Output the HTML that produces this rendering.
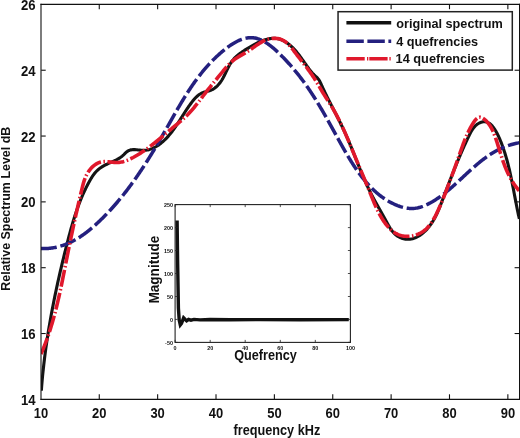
<!DOCTYPE html><html><head><meta charset="utf-8"><style>html,body{margin:0;padding:0;background:#fff;}svg{display:block;}</style></head><body>
<svg width="520" height="438" viewBox="0 0 520 438">
<rect width="520" height="438" fill="#fff"/>
<defs><clipPath id="ax"><rect x="41" y="4.4" width="478.5" height="395"/></clipPath></defs>
<g clip-path="url(#ax)" fill="none" stroke-linejoin="round">
<path d="M41.34,390.66 L41.41,389.66 L41.49,388.66 L41.56,387.67 L41.64,386.67 L41.72,385.67 L41.80,384.67 L41.89,383.68 L41.97,382.68 L42.06,381.68 L42.15,380.69 L42.24,379.69 L42.33,378.69 L42.42,377.70 L42.52,376.70 L42.61,375.70 L42.71,374.71 L42.81,373.71 L42.91,372.72 L43.01,371.72 L43.12,370.73 L43.22,369.73 L43.33,368.74 L43.44,367.74 L43.55,366.75 L43.66,365.75 L43.77,364.76 L43.89,363.76 L44.00,362.77 L44.12,361.78 L44.24,360.78 L44.36,359.79 L44.48,358.80 L44.60,357.80 L44.73,356.81 L44.85,355.82 L44.98,354.82 L45.11,353.83 L45.24,352.84 L45.37,351.85 L45.50,350.86 L45.64,349.86 L45.77,348.87 L45.91,347.88 L46.05,346.89 L46.19,345.90 L46.33,344.91 L46.47,343.92 L46.61,342.93 L46.76,341.94 L46.90,340.95 L47.05,339.96 L47.20,338.97 L47.35,337.98 L47.50,336.99 L47.66,336.00 L47.81,335.01 L47.97,334.02 L48.12,333.04 L48.28,332.05 L48.44,331.06 L48.60,330.07 L48.76,329.08 L48.93,328.10 L49.09,327.11 L49.26,326.12 L49.43,325.14 L49.59,324.15 L49.76,323.16 L49.93,322.18 L50.11,321.19 L50.28,320.21 L50.45,319.22 L50.63,318.24 L50.81,317.25 L50.98,316.27 L51.16,315.28 L51.34,314.30 L51.52,313.31 L51.71,312.33 L51.89,311.34 L52.08,310.36 L52.26,309.38 L52.45,308.40 L52.64,307.41 L52.83,306.43 L53.02,305.45 L53.21,304.47 L53.40,303.48 L53.60,302.50 L53.79,301.52 L53.99,300.54 L54.18,299.56 L54.38,298.58 L54.58,297.60 L54.78,296.62 L54.98,295.64 L55.19,294.66 L55.39,293.68 L55.59,292.70 L55.80,291.72 L56.01,290.74 L56.21,289.76 L56.42,288.78 L56.63,287.80 L56.84,286.82 L57.05,285.84 L57.27,284.87 L57.48,283.89 L57.69,282.91 L57.91,281.93 L58.13,280.96 L58.34,279.98 L58.56,279.00 L58.78,278.03 L59.00,277.05 L59.22,276.08 L59.44,275.10 L59.67,274.12 L59.89,273.15 L60.12,272.17 L60.34,271.20 L60.57,270.22 L60.79,269.25 L61.02,268.28 L61.25,267.30 L61.48,266.33 L61.71,265.35 L61.94,264.38 L62.18,263.41 L62.41,262.43 L62.64,261.46 L62.88,260.49 L63.11,259.51 L63.35,258.54 L63.59,257.57 L63.83,256.60 L64.06,255.63 L64.30,254.65 L64.54,253.68 L64.79,252.71 L65.03,251.74 L65.27,250.77 L65.51,249.80 L65.76,248.83 L66.00,247.86 L66.25,246.89 L66.49,245.92 L66.74,244.95 L66.99,243.98 L67.24,243.01 L67.49,242.04 L67.74,241.07 L67.99,240.10 L68.24,239.13 L68.49,238.17 L68.75,237.20 L69.00,236.23 L69.26,235.26 L69.52,234.30 L69.78,233.33 L70.04,232.37 L70.30,231.40 L70.57,230.44 L70.84,229.47 L71.11,228.51 L71.38,227.54 L71.65,226.58 L71.93,225.62 L72.21,224.66 L72.49,223.70 L72.77,222.74 L73.06,221.78 L73.35,220.82 L73.64,219.86 L73.93,218.91 L74.23,217.95 L74.53,217.00 L74.83,216.04 L75.14,215.09 L75.45,214.14 L75.77,213.19 L76.08,212.24 L76.41,211.29 L76.73,210.35 L77.06,209.40 L77.39,208.46 L77.73,207.52 L78.07,206.58 L78.41,205.64 L78.76,204.70 L79.12,203.76 L79.47,202.83 L79.84,201.89 L80.20,200.96 L80.57,200.03 L80.95,199.11 L81.33,198.18 L81.72,197.26 L82.11,196.34 L82.51,195.42 L82.91,194.50 L83.31,193.59 L83.73,192.68 L84.14,191.77 L84.57,190.86 L85.00,189.96 L85.43,189.05 L85.87,188.15 L86.32,187.26 L86.77,186.37 L87.22,185.48 L87.69,184.59 L88.16,183.70 L88.63,182.82 L89.11,181.95 L89.60,181.07 L90.10,180.20 L90.60,179.34 L91.11,178.48 L91.63,177.62 L92.17,176.78 L92.72,175.94 L93.29,175.12 L93.88,174.31 L94.49,173.52 L95.12,172.74 L95.78,171.99 L96.46,171.26 L97.17,170.55 L97.90,169.87 L98.66,169.22 L99.45,168.60 L100.26,168.01 L101.08,167.45 L101.93,166.90 L102.78,166.39 L103.65,165.89 L104.53,165.41 L105.41,164.94 L106.31,164.49 L107.21,164.06 L108.11,163.63 L109.02,163.21 L109.94,162.80 L110.85,162.40 L111.77,161.99 L112.68,161.59 L113.60,161.18 L114.51,160.77 L115.41,160.34 L116.31,159.90 L117.20,159.44 L118.07,158.96 L118.94,158.45 L119.78,157.91 L120.60,157.34 L121.41,156.74 L122.18,156.11 L122.93,155.45 L123.66,154.76 L124.36,154.05 L125.07,153.35 L125.80,152.65 L126.55,151.99 L127.34,151.38 L128.19,150.85 L129.09,150.42 L130.04,150.10 L131.01,149.87 L132.00,149.73 L133.00,149.65 L134.00,149.64 L135.00,149.67 L136.00,149.73 L137.00,149.82 L137.99,149.92 L138.99,150.02 L139.98,150.13 L140.98,150.22 L141.98,150.29 L142.98,150.33 L143.98,150.34 L144.98,150.29 L145.97,150.20 L146.96,150.06 L147.95,149.88 L148.92,149.65 L149.89,149.38 L150.84,149.07 L151.78,148.73 L152.70,148.35 L153.61,147.93 L154.51,147.49 L155.39,147.01 L156.26,146.52 L157.11,145.99 L157.95,145.44 L158.77,144.88 L159.58,144.29 L160.38,143.68 L161.16,143.06 L161.94,142.42 L162.69,141.77 L163.44,141.11 L164.18,140.43 L164.90,139.73 L165.61,139.03 L166.31,138.31 L166.99,137.59 L167.67,136.85 L168.34,136.10 L168.99,135.34 L169.64,134.58 L170.27,133.81 L170.90,133.02 L171.51,132.24 L172.12,131.44 L172.72,130.64 L173.32,129.84 L173.90,129.02 L174.48,128.21 L175.06,127.39 L175.62,126.56 L176.18,125.74 L176.74,124.91 L177.30,124.07 L177.84,123.24 L178.39,122.40 L178.93,121.56 L179.47,120.71 L180.01,119.87 L180.55,119.03 L181.09,118.18 L181.62,117.33 L182.16,116.49 L182.69,115.64 L183.23,114.80 L183.76,113.95 L184.30,113.11 L184.84,112.27 L185.39,111.43 L185.94,110.59 L186.49,109.76 L187.04,108.92 L187.60,108.09 L188.16,107.27 L188.73,106.44 L189.31,105.63 L189.89,104.81 L190.48,104.00 L191.08,103.20 L191.68,102.40 L192.30,101.61 L192.92,100.83 L193.55,100.05 L194.20,99.29 L194.86,98.54 L195.55,97.81 L196.25,97.10 L196.98,96.41 L197.73,95.75 L198.51,95.12 L199.32,94.53 L200.15,93.98 L201.02,93.48 L201.91,93.02 L202.82,92.62 L203.76,92.27 L204.71,91.97 L205.68,91.71 L206.65,91.46 L207.62,91.22 L208.59,90.97 L209.55,90.69 L210.49,90.36 L211.42,89.98 L212.32,89.54 L213.20,89.06 L214.05,88.53 L214.87,87.96 L215.66,87.35 L216.42,86.70 L217.15,86.01 L217.85,85.30 L218.53,84.56 L219.17,83.80 L219.79,83.01 L220.39,82.21 L220.96,81.39 L221.51,80.55 L222.04,79.70 L222.55,78.84 L223.05,77.97 L223.53,77.09 L223.99,76.21 L224.45,75.32 L224.89,74.42 L225.33,73.52 L225.76,72.62 L226.19,71.71 L226.62,70.81 L227.05,69.91 L227.49,69.01 L227.93,68.11 L228.38,67.22 L228.85,66.33 L229.33,65.45 L229.82,64.58 L230.33,63.72 L230.87,62.87 L231.42,62.04 L232.00,61.23 L232.61,60.43 L233.24,59.66 L233.90,58.91 L234.59,58.17 L235.29,57.46 L236.01,56.77 L236.75,56.10 L237.51,55.44 L238.28,54.81 L239.07,54.18 L239.86,53.57 L240.67,52.98 L241.48,52.40 L242.30,51.83 L243.13,51.27 L243.97,50.72 L244.81,50.17 L245.65,49.64 L246.50,49.11 L247.35,48.58 L248.21,48.06 L249.06,47.54 L249.92,47.03 L250.78,46.52 L251.64,46.01 L252.51,45.51 L253.38,45.01 L254.25,44.52 L255.13,44.05 L256.02,43.58 L256.91,43.12 L257.81,42.68 L258.71,42.25 L259.62,41.84 L260.54,41.45 L261.47,41.07 L262.40,40.71 L263.34,40.37 L264.29,40.05 L265.25,39.75 L266.21,39.48 L267.18,39.22 L268.15,39.00 L269.13,38.80 L270.12,38.63 L271.11,38.50 L272.11,38.40 L273.10,38.34 L274.11,38.33 L275.11,38.36 L276.10,38.44 L277.09,38.58 L278.08,38.77 L279.04,39.02 L280.00,39.32 L280.94,39.67 L281.86,40.05 L282.77,40.46 L283.67,40.91 L284.55,41.38 L285.42,41.88 L286.27,42.41 L287.10,42.97 L287.92,43.55 L288.72,44.15 L289.50,44.77 L290.27,45.41 L291.02,46.08 L291.75,46.75 L292.47,47.45 L293.18,48.15 L293.88,48.88 L294.56,49.61 L295.23,50.35 L295.88,51.11 L296.53,51.87 L297.17,52.64 L297.79,53.42 L298.41,54.21 L299.03,55.00 L299.63,55.80 L300.23,56.60 L300.82,57.41 L301.41,58.22 L301.99,59.03 L302.58,59.84 L303.15,60.66 L303.73,61.48 L304.31,62.29 L304.88,63.11 L305.46,63.93 L306.04,64.75 L306.62,65.56 L307.20,66.38 L307.79,67.19 L308.38,68.00 L308.97,68.80 L309.58,69.60 L310.19,70.39 L310.81,71.17 L311.45,71.95 L312.10,72.71 L312.76,73.45 L313.45,74.18 L314.15,74.89 L314.88,75.58 L315.61,76.26 L316.35,76.94 L317.07,77.64 L317.75,78.37 L318.39,79.14 L318.97,79.95 L319.49,80.81 L319.96,81.69 L320.39,82.59 L320.81,83.50 L321.22,84.42 L321.63,85.33 L322.05,86.24 L322.46,87.15 L322.89,88.06 L323.31,88.96 L323.74,89.87 L324.17,90.77 L324.60,91.67 L325.03,92.58 L325.47,93.48 L325.91,94.38 L326.35,95.27 L326.79,96.17 L327.24,97.07 L327.68,97.96 L328.13,98.86 L328.58,99.75 L329.03,100.65 L329.48,101.54 L329.93,102.43 L330.39,103.32 L330.84,104.22 L331.30,105.11 L331.75,106.00 L332.21,106.89 L332.66,107.78 L333.12,108.67 L333.58,109.56 L334.03,110.45 L334.49,111.34 L334.94,112.23 L335.40,113.12 L335.86,114.01 L336.31,114.91 L336.76,115.80 L337.22,116.69 L337.67,117.58 L338.12,118.48 L338.57,119.37 L339.02,120.27 L339.46,121.16 L339.91,122.06 L340.35,122.95 L340.79,123.85 L341.23,124.75 L341.67,125.65 L342.11,126.55 L342.54,127.45 L342.97,128.36 L343.40,129.26 L343.82,130.17 L344.25,131.07 L344.67,131.98 L345.08,132.89 L345.50,133.80 L345.91,134.72 L346.31,135.63 L346.72,136.55 L347.12,137.46 L347.52,138.38 L347.92,139.30 L348.31,140.22 L348.70,141.14 L349.09,142.06 L349.48,142.98 L349.87,143.91 L350.25,144.83 L350.63,145.76 L351.01,146.68 L351.39,147.61 L351.77,148.53 L352.15,149.46 L352.52,150.39 L352.90,151.32 L353.27,152.25 L353.64,153.17 L354.01,154.10 L354.39,155.03 L354.76,155.96 L355.13,156.89 L355.50,157.82 L355.87,158.75 L356.24,159.68 L356.61,160.61 L356.98,161.54 L357.35,162.47 L357.72,163.40 L358.10,164.33 L358.47,165.26 L358.84,166.18 L359.22,167.11 L359.59,168.04 L359.97,168.97 L360.35,169.89 L360.73,170.82 L361.11,171.74 L361.49,172.67 L361.88,173.59 L362.26,174.51 L362.65,175.44 L363.04,176.36 L363.44,177.28 L363.83,178.20 L364.23,179.12 L364.63,180.03 L365.03,180.95 L365.44,181.86 L365.85,182.78 L366.26,183.69 L366.68,184.60 L367.10,185.51 L367.52,186.41 L367.94,187.32 L368.37,188.22 L368.80,189.13 L369.24,190.03 L369.68,190.93 L370.13,191.82 L370.58,192.72 L371.03,193.61 L371.49,194.50 L371.95,195.39 L372.41,196.27 L372.88,197.16 L373.35,198.04 L373.83,198.92 L374.30,199.80 L374.78,200.68 L375.27,201.56 L375.75,202.43 L376.24,203.31 L376.72,204.18 L377.21,205.05 L377.70,205.93 L378.19,206.80 L378.68,207.67 L379.17,208.54 L379.67,209.41 L380.16,210.29 L380.65,211.16 L381.14,212.03 L381.63,212.90 L382.12,213.77 L382.61,214.65 L383.10,215.52 L383.58,216.40 L384.06,217.27 L384.55,218.15 L385.03,219.03 L385.50,219.91 L385.98,220.79 L386.45,221.67 L386.93,222.55 L387.40,223.43 L387.89,224.31 L388.37,225.18 L388.87,226.05 L389.38,226.91 L389.91,227.76 L390.45,228.60 L391.01,229.43 L391.59,230.25 L392.19,231.05 L392.82,231.83 L393.47,232.58 L394.16,233.31 L394.87,234.01 L395.62,234.68 L396.39,235.31 L397.20,235.90 L398.04,236.45 L398.91,236.95 L399.80,237.40 L400.71,237.81 L401.65,238.17 L402.60,238.48 L403.56,238.74 L404.54,238.95 L405.53,239.12 L406.52,239.22 L407.52,239.27 L408.52,239.27 L409.52,239.20 L410.52,239.09 L411.50,238.92 L412.48,238.70 L413.44,238.43 L414.39,238.11 L415.33,237.76 L416.25,237.36 L417.15,236.92 L418.03,236.45 L418.90,235.95 L419.74,235.42 L420.57,234.86 L421.38,234.27 L422.18,233.66 L422.95,233.03 L423.71,232.38 L424.45,231.71 L425.18,231.02 L425.88,230.31 L426.57,229.58 L427.25,228.85 L427.91,228.09 L428.55,227.33 L429.18,226.55 L429.79,225.76 L430.39,224.95 L430.97,224.14 L431.54,223.31 L432.09,222.48 L432.63,221.64 L433.15,220.78 L433.66,219.92 L434.16,219.05 L434.64,218.18 L435.12,217.30 L435.58,216.41 L436.03,215.51 L436.46,214.61 L436.89,213.71 L437.31,212.80 L437.72,211.89 L438.13,210.97 L438.52,210.05 L438.91,209.13 L439.29,208.20 L439.67,207.28 L440.04,206.35 L440.40,205.42 L440.77,204.48 L441.13,203.55 L441.49,202.62 L441.84,201.68 L442.20,200.75 L442.55,199.81 L442.91,198.88 L443.27,197.94 L443.62,197.00 L443.98,196.07 L444.33,195.13 L444.69,194.20 L445.04,193.26 L445.40,192.33 L445.76,191.39 L446.11,190.46 L446.47,189.52 L446.83,188.59 L447.18,187.65 L447.54,186.72 L447.90,185.78 L448.26,184.85 L448.62,183.92 L448.98,182.98 L449.34,182.05 L449.70,181.12 L450.06,180.18 L450.42,179.25 L450.79,178.32 L451.15,177.39 L451.52,176.45 L451.88,175.52 L452.25,174.59 L452.62,173.66 L452.98,172.73 L453.35,171.80 L453.72,170.87 L454.10,169.94 L454.47,169.01 L454.84,168.08 L455.22,167.16 L455.59,166.23 L455.97,165.30 L456.35,164.38 L456.73,163.45 L457.11,162.52 L457.49,161.60 L457.88,160.68 L458.26,159.75 L458.65,158.83 L459.04,157.91 L459.43,156.99 L459.82,156.06 L460.21,155.14 L460.60,154.22 L461.00,153.31 L461.40,152.39 L461.80,151.47 L462.20,150.55 L462.60,149.64 L463.01,148.72 L463.41,147.81 L463.82,146.89 L464.23,145.98 L464.64,145.07 L465.06,144.16 L465.47,143.25 L465.89,142.34 L466.31,141.43 L466.73,140.52 L467.16,139.62 L467.58,138.71 L468.01,137.81 L468.44,136.90 L468.88,136.00 L469.31,135.10 L469.76,134.20 L470.21,133.31 L470.68,132.43 L471.16,131.55 L471.67,130.69 L472.19,129.84 L472.75,129.00 L473.33,128.19 L473.95,127.41 L474.61,126.65 L475.30,125.93 L476.03,125.24 L476.80,124.61 L477.61,124.02 L478.46,123.49 L479.34,123.01 L480.25,122.60 L481.19,122.25 L482.15,121.98 L483.13,121.78 L484.13,121.69 L485.13,121.71 L486.12,121.86 L487.08,122.14 L488.00,122.53 L488.87,123.02 L489.70,123.58 L490.48,124.21 L491.21,124.89 L491.91,125.61 L492.56,126.36 L493.19,127.14 L493.78,127.95 L494.35,128.77 L494.90,129.61 L495.43,130.46 L495.93,131.32 L496.43,132.19 L496.90,133.07 L497.37,133.96 L497.82,134.86 L498.25,135.76 L498.67,136.66 L499.09,137.58 L499.49,138.49 L499.88,139.41 L500.27,140.34 L500.65,141.26 L501.02,142.19 L501.39,143.12 L501.75,144.05 L502.10,144.99 L502.45,145.93 L502.79,146.87 L503.12,147.81 L503.45,148.76 L503.78,149.71 L504.09,150.66 L504.40,151.61 L504.71,152.56 L505.01,153.51 L505.30,154.47 L505.59,155.43 L505.88,156.39 L506.16,157.35 L506.44,158.31 L506.71,159.27 L506.97,160.24 L507.23,161.20 L507.49,162.17 L507.74,163.14 L507.99,164.11 L508.24,165.08 L508.48,166.05 L508.72,167.02 L508.95,167.99 L509.18,168.97 L509.41,169.94 L509.64,170.92 L509.86,171.89 L510.08,172.87 L510.29,173.85 L510.51,174.82 L510.72,175.80 L510.93,176.78 L511.13,177.76 L511.34,178.74 L511.54,179.72 L511.74,180.70 L511.94,181.68 L512.13,182.66 L512.33,183.64 L512.52,184.63 L512.71,185.61 L512.90,186.59 L513.09,187.57 L513.28,188.56 L513.47,189.54 L513.66,190.52 L513.85,191.50 L514.03,192.49 L514.22,193.47 L514.41,194.45 L514.59,195.44 L514.78,196.42 L514.97,197.40 L515.15,198.39 L515.34,199.37 L515.53,200.35 L515.72,201.34 L515.91,202.32 L516.10,203.30 L516.29,204.28 L516.48,205.26 L516.67,206.25 L516.87,207.23 L517.06,208.21 L517.26,209.19 L517.46,210.17 L517.66,211.15 L517.87,212.13 L518.08,213.11 L518.28,214.09 L518.50,215.07 L518.71,216.04 L518.93,217.02 L519.14,218.00 L519.37,218.97" stroke="#141414" stroke-width="3.1"/>
<path d="M40.33,248.56 L41.33,248.60 L42.33,248.62 L43.33,248.62 L44.33,248.61 L45.33,248.59 L46.33,248.54 L47.33,248.48 L48.33,248.41 L49.32,248.31 L50.32,248.20 L51.31,248.08 L52.30,247.94 L53.29,247.78 L54.28,247.60 L55.26,247.41 L56.24,247.20 L57.21,246.98 L58.19,246.74 L59.15,246.49 L60.12,246.22 L61.08,245.93 L62.03,245.63 L62.98,245.32 L63.93,244.99 L64.87,244.65 L65.80,244.29 L66.73,243.92 L67.66,243.53 L68.58,243.14 L69.49,242.73 L70.40,242.30 L71.30,241.87 L72.19,241.42 L73.08,240.96 L73.97,240.49 L74.85,240.01 L75.72,239.52 L76.58,239.02 L77.44,238.51 L78.30,237.98 L79.15,237.45 L79.99,236.91 L80.83,236.36 L81.66,235.80 L82.48,235.24 L83.30,234.66 L84.12,234.08 L84.93,233.49 L85.73,232.89 L86.53,232.29 L87.32,231.68 L88.11,231.06 L88.89,230.44 L89.67,229.81 L90.44,229.18 L91.21,228.53 L91.98,227.89 L92.74,227.24 L93.49,226.58 L94.25,225.92 L94.99,225.25 L95.74,224.58 L96.48,223.91 L97.21,223.23 L97.95,222.55 L98.68,221.86 L99.40,221.18 L100.12,220.48 L100.84,219.79 L101.56,219.09 L102.28,218.39 L102.99,217.68 L103.69,216.98 L104.40,216.27 L105.10,215.55 L105.80,214.84 L106.50,214.12 L107.19,213.39 L107.88,212.67 L108.57,211.94 L109.25,211.21 L109.93,210.48 L110.61,209.74 L111.29,209.00 L111.96,208.26 L112.63,207.52 L113.30,206.77 L113.96,206.02 L114.62,205.27 L115.28,204.52 L115.94,203.76 L116.59,203.00 L117.24,202.24 L117.89,201.48 L118.53,200.71 L119.17,199.94 L119.81,199.17 L120.45,198.40 L121.08,197.62 L121.71,196.85 L122.34,196.07 L122.97,195.29 L123.59,194.50 L124.21,193.72 L124.83,192.93 L125.45,192.14 L126.06,191.35 L126.67,190.56 L127.28,189.76 L127.88,188.97 L128.49,188.17 L129.09,187.37 L129.69,186.56 L130.28,185.76 L130.88,184.96 L131.47,184.15 L132.06,183.34 L132.65,182.53 L133.23,181.72 L133.81,180.90 L134.40,180.09 L134.97,179.27 L135.55,178.45 L136.12,177.63 L136.70,176.81 L137.27,175.99 L137.83,175.16 L138.40,174.34 L138.96,173.51 L139.52,172.68 L140.08,171.85 L140.64,171.02 L141.20,170.19 L141.75,169.35 L142.30,168.52 L142.86,167.68 L143.40,166.85 L143.95,166.01 L144.50,165.17 L145.04,164.33 L145.58,163.48 L146.12,162.64 L146.66,161.80 L147.20,160.95 L147.73,160.11 L148.26,159.26 L148.80,158.41 L149.33,157.56 L149.85,156.71 L150.38,155.86 L150.91,155.01 L151.43,154.16 L151.96,153.30 L152.48,152.45 L153.00,151.59 L153.52,150.74 L154.03,149.88 L154.55,149.02 L155.07,148.17 L155.58,147.31 L156.09,146.45 L156.60,145.59 L157.11,144.73 L157.62,143.86 L158.13,143.00 L158.64,142.14 L159.14,141.27 L159.65,140.41 L160.15,139.54 L160.66,138.68 L161.16,137.81 L161.66,136.95 L162.16,136.08 L162.66,135.21 L163.16,134.34 L163.66,133.48 L164.15,132.61 L164.65,131.74 L165.14,130.87 L165.64,130.00 L166.13,129.13 L166.63,128.26 L167.12,127.39 L167.61,126.51 L168.11,125.64 L168.60,124.77 L169.09,123.90 L169.58,123.03 L170.07,122.16 L170.57,121.28 L171.06,120.41 L171.55,119.54 L172.04,118.67 L172.54,117.80 L173.03,116.93 L173.52,116.06 L174.02,115.19 L174.52,114.32 L175.01,113.45 L175.51,112.58 L176.01,111.71 L176.51,110.84 L177.01,109.98 L177.51,109.11 L178.01,108.24 L178.52,107.38 L179.02,106.52 L179.53,105.65 L180.04,104.79 L180.55,103.93 L181.06,103.07 L181.57,102.21 L182.09,101.35 L182.61,100.50 L183.13,99.64 L183.65,98.79 L184.17,97.93 L184.70,97.08 L185.23,96.23 L185.76,95.39 L186.30,94.54 L186.83,93.69 L187.37,92.85 L187.91,92.01 L188.46,91.17 L189.01,90.33 L189.56,89.49 L190.11,88.66 L190.67,87.83 L191.23,87.00 L191.79,86.17 L192.36,85.35 L192.93,84.52 L193.50,83.70 L194.08,82.88 L194.66,82.07 L195.24,81.26 L195.83,80.45 L196.42,79.64 L197.02,78.83 L197.61,78.03 L198.22,77.23 L198.82,76.44 L199.44,75.64 L200.05,74.85 L200.67,74.07 L201.29,73.28 L201.92,72.50 L202.55,71.73 L203.19,70.96 L203.83,70.19 L204.47,69.42 L205.12,68.66 L205.78,67.90 L206.44,67.15 L207.10,66.40 L207.77,65.65 L208.44,64.91 L209.11,64.17 L209.80,63.44 L210.48,62.71 L211.17,61.98 L211.87,61.26 L212.57,60.55 L213.27,59.84 L213.98,59.13 L214.69,58.43 L215.41,57.73 L216.14,57.04 L216.86,56.35 L217.60,55.67 L218.33,54.99 L219.08,54.32 L219.82,53.65 L220.58,52.99 L221.33,52.34 L222.09,51.69 L222.86,51.04 L223.63,50.40 L224.41,49.77 L225.19,49.15 L225.98,48.53 L226.77,47.92 L227.57,47.32 L228.38,46.73 L229.20,46.15 L230.02,45.58 L230.85,45.02 L231.68,44.47 L232.53,43.93 L233.38,43.41 L234.24,42.90 L235.11,42.41 L235.99,41.93 L236.88,41.47 L237.78,41.03 L238.69,40.60 L239.61,40.20 L240.53,39.82 L241.47,39.47 L242.41,39.14 L243.37,38.84 L244.33,38.57 L245.30,38.33 L246.28,38.12 L247.27,37.95 L248.26,37.82 L249.26,37.73 L250.26,37.67 L251.26,37.67 L252.26,37.70 L253.26,37.78 L254.25,37.91 L255.24,38.08 L256.21,38.30 L257.18,38.56 L258.14,38.85 L259.08,39.18 L260.01,39.54 L260.94,39.94 L261.84,40.36 L262.74,40.80 L263.63,41.27 L264.50,41.76 L265.36,42.27 L266.21,42.80 L267.05,43.35 L267.88,43.91 L268.69,44.49 L269.50,45.08 L270.30,45.68 L271.09,46.29 L271.87,46.92 L272.65,47.55 L273.42,48.19 L274.18,48.85 L274.93,49.51 L275.67,50.17 L276.41,50.85 L277.15,51.53 L277.88,52.21 L278.60,52.90 L279.32,53.60 L280.04,54.30 L280.75,55.00 L281.46,55.71 L282.16,56.42 L282.86,57.14 L283.56,57.85 L284.26,58.57 L284.95,59.30 L285.64,60.02 L286.32,60.75 L287.00,61.49 L287.68,62.22 L288.36,62.96 L289.03,63.71 L289.69,64.45 L290.36,65.20 L291.02,65.95 L291.68,66.71 L292.33,67.47 L292.98,68.23 L293.63,68.99 L294.27,69.76 L294.91,70.53 L295.55,71.30 L296.18,72.07 L296.81,72.85 L297.44,73.63 L298.06,74.42 L298.68,75.20 L299.30,75.99 L299.91,76.78 L300.52,77.58 L301.13,78.37 L301.73,79.17 L302.33,79.97 L302.93,80.78 L303.52,81.58 L304.11,82.39 L304.70,83.20 L305.28,84.01 L305.86,84.83 L306.44,85.65 L307.02,86.47 L307.59,87.29 L308.16,88.11 L308.72,88.94 L309.28,89.77 L309.84,90.60 L310.40,91.43 L310.95,92.26 L311.51,93.10 L312.05,93.93 L312.60,94.77 L313.14,95.61 L313.68,96.46 L314.22,97.30 L314.76,98.15 L315.29,98.99 L315.82,99.84 L316.35,100.69 L316.88,101.54 L317.40,102.40 L317.92,103.25 L318.44,104.11 L318.96,104.96 L319.48,105.82 L319.99,106.68 L320.50,107.54 L321.01,108.40 L321.52,109.26 L322.03,110.13 L322.53,110.99 L323.04,111.86 L323.54,112.72 L324.04,113.59 L324.54,114.46 L325.04,115.32 L325.53,116.19 L326.03,117.06 L326.52,117.93 L327.02,118.81 L327.51,119.68 L328.00,120.55 L328.49,121.42 L328.98,122.30 L329.46,123.17 L329.95,124.05 L330.44,124.92 L330.92,125.80 L331.41,126.67 L331.89,127.55 L332.38,128.42 L332.86,129.30 L333.34,130.18 L333.83,131.05 L334.31,131.93 L334.79,132.81 L335.27,133.69 L335.75,134.56 L336.24,135.44 L336.72,136.32 L337.20,137.19 L337.68,138.07 L338.17,138.95 L338.65,139.83 L339.13,140.70 L339.62,141.58 L340.10,142.45 L340.59,143.33 L341.07,144.20 L341.56,145.08 L342.05,145.95 L342.54,146.82 L343.03,147.70 L343.53,148.57 L344.02,149.44 L344.52,150.31 L345.02,151.17 L345.52,152.04 L346.02,152.91 L346.53,153.77 L347.03,154.63 L347.54,155.50 L348.05,156.36 L348.57,157.21 L349.09,158.07 L349.61,158.93 L350.13,159.78 L350.66,160.63 L351.19,161.48 L351.72,162.33 L352.26,163.17 L352.80,164.01 L353.34,164.85 L353.89,165.69 L354.44,166.53 L355.00,167.36 L355.56,168.19 L356.12,169.02 L356.69,169.84 L357.26,170.66 L357.84,171.48 L358.42,172.30 L359.00,173.11 L359.60,173.91 L360.19,174.72 L360.79,175.52 L361.40,176.31 L362.01,177.11 L362.63,177.89 L363.26,178.68 L363.88,179.46 L364.52,180.23 L365.16,181.00 L365.81,181.76 L366.46,182.52 L367.12,183.27 L367.79,184.02 L368.46,184.76 L369.14,185.50 L369.83,186.22 L370.52,186.95 L371.22,187.66 L371.93,188.37 L372.64,189.07 L373.36,189.77 L374.09,190.45 L374.83,191.13 L375.57,191.80 L376.32,192.47 L377.08,193.12 L377.84,193.76 L378.62,194.40 L379.40,195.03 L380.19,195.64 L380.98,196.25 L381.79,196.85 L382.60,197.43 L383.42,198.01 L384.24,198.57 L385.08,199.12 L385.92,199.67 L386.77,200.20 L387.63,200.71 L388.49,201.22 L389.36,201.71 L390.24,202.19 L391.12,202.66 L392.02,203.11 L392.92,203.55 L393.82,203.98 L394.73,204.40 L395.65,204.80 L396.57,205.18 L397.50,205.55 L398.44,205.90 L399.38,206.24 L400.33,206.55 L401.29,206.85 L402.25,207.12 L403.22,207.38 L404.19,207.61 L405.17,207.82 L406.16,208.00 L407.15,208.16 L408.14,208.28 L409.14,208.38 L410.14,208.45 L411.14,208.48 L412.14,208.48 L413.14,208.45 L414.14,208.38 L415.13,208.27 L416.12,208.13 L417.11,207.95 L418.09,207.74 L419.06,207.50 L420.02,207.24 L420.98,206.95 L421.93,206.63 L422.87,206.29 L423.81,205.93 L424.73,205.55 L425.65,205.15 L426.56,204.74 L427.47,204.31 L428.36,203.87 L429.26,203.41 L430.14,202.95 L431.02,202.47 L431.89,201.98 L432.76,201.48 L433.62,200.96 L434.47,200.44 L435.32,199.91 L436.16,199.37 L437.00,198.82 L437.83,198.26 L438.66,197.69 L439.48,197.12 L440.29,196.54 L441.10,195.95 L441.90,195.35 L442.70,194.75 L443.50,194.14 L444.29,193.52 L445.07,192.90 L445.85,192.27 L446.63,191.64 L447.40,191.01 L448.17,190.37 L448.94,189.72 L449.70,189.07 L450.46,188.42 L451.21,187.76 L451.97,187.11 L452.72,186.44 L453.47,185.78 L454.21,185.11 L454.96,184.44 L455.70,183.77 L456.44,183.10 L457.18,182.42 L457.92,181.74 L458.65,181.07 L459.39,180.39 L460.12,179.71 L460.86,179.03 L461.59,178.35 L462.33,177.67 L463.06,176.99 L463.79,176.30 L464.53,175.62 L465.26,174.94 L465.99,174.26 L466.73,173.58 L467.47,172.91 L468.20,172.23 L468.94,171.55 L469.68,170.88 L470.42,170.21 L471.17,169.54 L471.91,168.87 L472.66,168.20 L473.41,167.54 L474.16,166.88 L474.92,166.22 L475.67,165.57 L476.44,164.92 L477.20,164.27 L477.97,163.63 L478.74,162.99 L479.51,162.35 L480.29,161.72 L481.07,161.10 L481.86,160.48 L482.65,159.87 L483.44,159.26 L484.24,158.65 L485.05,158.06 L485.86,157.47 L486.67,156.89 L487.49,156.31 L488.31,155.74 L489.14,155.18 L489.98,154.63 L490.82,154.09 L491.66,153.55 L492.51,153.02 L493.37,152.50 L494.23,152.00 L495.10,151.50 L495.98,151.01 L496.85,150.53 L497.74,150.06 L498.63,149.61 L499.53,149.16 L500.43,148.73 L501.34,148.30 L502.25,147.89 L503.17,147.50 L504.09,147.11 L505.02,146.74 L505.95,146.37 L506.89,146.03 L507.83,145.69 L508.78,145.37 L509.73,145.06 L510.69,144.77 L511.65,144.49 L512.62,144.22 L513.59,143.96 L514.56,143.72 L515.53,143.50 L516.51,143.29 L517.49,143.09 L518.48,142.90 L519.46,142.73" stroke="#24207f" stroke-width="3.5" stroke-dasharray="16.5 3.8"/>
<path d="M41.02,353.97 L41.42,353.05 L41.82,352.13 L42.21,351.21 L42.60,350.29 L42.98,349.36 L43.36,348.44 L43.74,347.51 L44.11,346.58 L44.48,345.65 L44.84,344.72 L45.20,343.78 L45.56,342.85 L45.91,341.91 L46.26,340.97 L46.60,340.04 L46.95,339.09 L47.28,338.15 L47.62,337.21 L47.95,336.26 L48.27,335.32 L48.60,334.37 L48.92,333.42 L49.23,332.47 L49.54,331.52 L49.85,330.57 L50.16,329.62 L50.46,328.66 L50.76,327.71 L51.06,326.75 L51.35,325.80 L51.64,324.84 L51.93,323.88 L52.21,322.92 L52.49,321.96 L52.77,321.00 L53.05,320.04 L53.32,319.07 L53.59,318.11 L53.85,317.15 L54.12,316.18 L54.38,315.22 L54.64,314.25 L54.90,313.28 L55.15,312.31 L55.40,311.35 L55.65,310.38 L55.90,309.41 L56.14,308.44 L56.38,307.46 L56.62,306.49 L56.86,305.52 L57.10,304.55 L57.33,303.58 L57.56,302.60 L57.79,301.63 L58.02,300.65 L58.25,299.68 L58.47,298.70 L58.69,297.73 L58.92,296.75 L59.13,295.78 L59.35,294.80 L59.57,293.82 L59.78,292.85 L60.00,291.87 L60.21,290.89 L60.42,289.91 L60.63,288.93 L60.84,287.95 L61.04,286.97 L61.25,286.00 L61.45,285.02 L61.66,284.04 L61.86,283.06 L62.06,282.08 L62.26,281.10 L62.46,280.11 L62.66,279.13 L62.86,278.15 L63.06,277.17 L63.25,276.19 L63.45,275.21 L63.64,274.23 L63.84,273.25 L64.04,272.27 L64.23,271.28 L64.42,270.30 L64.62,269.32 L64.81,268.34 L65.01,267.36 L65.20,266.38 L65.39,265.39 L65.59,264.41 L65.78,263.43 L65.97,262.45 L66.17,261.47 L66.36,260.48 L66.55,259.50 L66.75,258.52 L66.94,257.54 L67.14,256.56 L67.33,255.58 L67.53,254.60 L67.72,253.61 L67.92,252.63 L68.12,251.65 L68.32,250.67 L68.51,249.69 L68.71,248.71 L68.91,247.73 L69.11,246.75 L69.31,245.77 L69.51,244.79 L69.71,243.81 L69.92,242.83 L70.12,241.85 L70.32,240.87 L70.53,239.89 L70.73,238.91 L70.93,237.93 L71.14,236.95 L71.35,235.97 L71.55,234.99 L71.76,234.01 L71.97,233.03 L72.17,232.05 L72.38,231.07 L72.59,230.10 L72.80,229.12 L73.01,228.14 L73.22,227.16 L73.43,226.18 L73.64,225.20 L73.86,224.23 L74.07,223.25 L74.28,222.27 L74.50,221.29 L74.71,220.32 L74.93,219.34 L75.14,218.36 L75.36,217.39 L75.58,216.41 L75.79,215.43 L76.01,214.46 L76.23,213.48 L76.45,212.50 L76.67,211.53 L76.89,210.55 L77.11,209.57 L77.33,208.60 L77.56,207.62 L77.78,206.65 L78.00,205.67 L78.23,204.70 L78.45,203.72 L78.68,202.75 L78.90,201.77 L79.13,200.80 L79.36,199.82 L79.59,198.85 L79.82,197.87 L80.04,196.90 L80.27,195.93 L80.51,194.95 L80.74,193.98 L80.97,193.01 L81.20,192.03 L81.43,191.06 L81.67,190.09 L81.90,189.11 L82.14,188.14 L82.38,187.17 L82.62,186.20 L82.87,185.23 L83.13,184.26 L83.40,183.30 L83.68,182.34 L83.97,181.38 L84.29,180.43 L84.61,179.49 L84.96,178.55 L85.33,177.62 L85.72,176.70 L86.14,175.79 L86.58,174.89 L87.05,174.00 L87.54,173.13 L88.06,172.28 L88.61,171.44 L89.19,170.63 L89.80,169.83 L90.43,169.06 L91.09,168.30 L91.78,167.58 L92.49,166.88 L93.23,166.20 L94.00,165.56 L94.79,164.95 L95.62,164.38 L96.46,163.85 L97.34,163.37 L98.24,162.94 L99.17,162.57 L100.12,162.26 L101.09,162.02 L102.08,161.84 L103.07,161.72 L104.07,161.66 L105.07,161.64 L106.07,161.66 L107.07,161.72 L108.07,161.79 L109.07,161.88 L110.06,161.98 L111.06,162.09 L112.05,162.19 L113.05,162.29 L114.05,162.37 L115.04,162.44 L116.04,162.48 L117.04,162.48 L118.04,162.44 L119.04,162.37 L120.04,162.25 L121.02,162.09 L122.01,161.89 L122.98,161.66 L123.94,161.40 L124.90,161.11 L125.85,160.79 L126.79,160.44 L127.72,160.07 L128.64,159.68 L129.55,159.27 L130.46,158.85 L131.35,158.40 L132.24,157.94 L133.13,157.48 L134.01,157.00 L134.88,156.51 L135.75,156.01 L136.61,155.50 L137.47,154.99 L138.33,154.47 L139.18,153.94 L140.02,153.41 L140.87,152.87 L141.70,152.32 L142.54,151.77 L143.37,151.21 L144.19,150.65 L145.02,150.08 L145.83,149.50 L146.65,148.92 L147.46,148.33 L148.27,147.74 L149.07,147.15 L149.87,146.55 L150.67,145.94 L151.46,145.33 L152.26,144.72 L153.04,144.11 L153.83,143.49 L154.61,142.86 L155.39,142.24 L156.17,141.61 L156.95,140.98 L157.73,140.35 L158.50,139.71 L159.27,139.07 L160.04,138.43 L160.81,137.79 L161.57,137.15 L162.34,136.51 L163.11,135.86 L163.87,135.21 L164.63,134.57 L165.40,133.92 L166.16,133.27 L166.92,132.63 L167.69,131.98 L168.45,131.33 L169.22,130.69 L169.98,130.04 L170.75,129.40 L171.51,128.75 L172.28,128.11 L173.05,127.47 L173.82,126.83 L174.59,126.19 L175.36,125.56 L176.13,124.92 L176.90,124.28 L177.67,123.64 L178.44,123.00 L179.21,122.36 L179.97,121.71 L180.73,121.06 L181.49,120.41 L182.25,119.75 L182.99,119.09 L183.74,118.42 L184.48,117.75 L185.21,117.06 L185.94,116.38 L186.66,115.68 L187.37,114.98 L188.07,114.27 L188.77,113.55 L189.46,112.82 L190.13,112.08 L190.81,111.34 L191.47,110.59 L192.13,109.84 L192.78,109.08 L193.42,108.31 L194.06,107.54 L194.70,106.77 L195.33,105.99 L195.95,105.21 L196.58,104.43 L197.19,103.64 L197.81,102.85 L198.42,102.06 L199.03,101.27 L199.64,100.47 L200.25,99.68 L200.86,98.88 L201.46,98.09 L202.07,97.29 L202.67,96.50 L203.28,95.70 L203.89,94.91 L204.50,94.11 L205.12,93.32 L205.73,92.53 L206.35,91.74 L206.96,90.96 L207.58,90.17 L208.20,89.39 L208.83,88.60 L209.45,87.82 L210.08,87.04 L210.70,86.26 L211.33,85.48 L211.96,84.70 L212.59,83.92 L213.22,83.15 L213.85,82.37 L214.48,81.59 L215.12,80.82 L215.75,80.04 L216.38,79.27 L217.02,78.50 L217.65,77.72 L218.29,76.95 L218.92,76.17 L219.56,75.40 L220.19,74.63 L220.82,73.85 L221.46,73.08 L222.09,72.31 L222.73,71.53 L223.36,70.76 L224.00,69.99 L224.64,69.22 L225.28,68.45 L225.93,67.69 L226.59,66.93 L227.25,66.19 L227.93,65.45 L228.61,64.71 L229.30,64.00 L230.01,63.29 L230.73,62.59 L231.47,61.92 L232.22,61.25 L232.99,60.61 L233.77,59.99 L234.57,59.39 L235.39,58.81 L236.22,58.25 L237.06,57.71 L237.91,57.18 L238.77,56.67 L239.63,56.16 L240.50,55.66 L241.37,55.16 L242.24,54.67 L243.11,54.18 L243.98,53.68 L244.84,53.18 L245.71,52.67 L246.56,52.15 L247.41,51.63 L248.25,51.08 L249.09,50.53 L249.91,49.97 L250.73,49.39 L251.55,48.82 L252.36,48.23 L253.18,47.65 L253.99,47.06 L254.80,46.48 L255.62,45.90 L256.43,45.32 L257.26,44.76 L258.09,44.20 L258.93,43.65 L259.77,43.11 L260.63,42.59 L261.49,42.09 L262.37,41.61 L263.26,41.16 L264.16,40.72 L265.08,40.32 L266.01,39.95 L266.95,39.62 L267.91,39.32 L268.87,39.06 L269.85,38.84 L270.83,38.66 L271.83,38.52 L272.82,38.43 L273.82,38.38 L274.82,38.37 L275.82,38.40 L276.82,38.49 L277.81,38.62 L278.79,38.81 L279.77,39.05 L280.72,39.34 L281.66,39.69 L282.57,40.10 L283.46,40.56 L284.32,41.07 L285.15,41.63 L285.95,42.22 L286.73,42.85 L287.48,43.52 L288.21,44.20 L288.91,44.91 L289.60,45.64 L290.27,46.39 L290.92,47.15 L291.56,47.92 L292.19,48.70 L292.81,49.48 L293.42,50.27 L294.02,51.07 L294.63,51.87 L295.23,52.67 L295.83,53.47 L296.44,54.26 L297.04,55.06 L297.65,55.85 L298.26,56.65 L298.87,57.44 L299.49,58.23 L300.10,59.02 L300.71,59.81 L301.33,60.60 L301.94,61.39 L302.56,62.18 L303.17,62.97 L303.78,63.76 L304.39,64.56 L305.00,65.35 L305.61,66.14 L306.22,66.94 L306.82,67.74 L307.42,68.54 L308.02,69.34 L308.61,70.15 L309.20,70.96 L309.79,71.77 L310.37,72.58 L310.95,73.40 L311.52,74.22 L312.09,75.04 L312.65,75.87 L313.21,76.70 L313.76,77.54 L314.31,78.37 L314.84,79.22 L315.38,80.07 L315.90,80.92 L316.43,81.77 L316.95,82.62 L317.46,83.48 L317.97,84.34 L318.48,85.20 L318.99,86.06 L319.50,86.93 L320.01,87.79 L320.52,88.65 L321.02,89.51 L321.53,90.38 L322.04,91.24 L322.55,92.10 L323.07,92.95 L323.59,93.81 L324.11,94.66 L324.64,95.51 L325.17,96.36 L325.71,97.21 L326.25,98.05 L326.79,98.89 L327.34,99.72 L327.89,100.56 L328.44,101.40 L328.99,102.23 L329.53,103.08 L330.07,103.92 L330.60,104.77 L331.12,105.62 L331.64,106.47 L332.16,107.33 L332.67,108.19 L333.17,109.06 L333.67,109.92 L334.17,110.79 L334.66,111.67 L335.14,112.54 L335.63,113.42 L336.10,114.30 L336.57,115.18 L337.04,116.07 L337.51,116.95 L337.96,117.84 L338.42,118.73 L338.87,119.63 L339.32,120.52 L339.76,121.42 L340.20,122.32 L340.64,123.22 L341.07,124.12 L341.50,125.02 L341.93,125.93 L342.35,126.83 L342.77,127.74 L343.19,128.65 L343.60,129.56 L344.02,130.47 L344.43,131.39 L344.83,132.30 L345.24,133.22 L345.64,134.13 L346.04,135.05 L346.44,135.97 L346.84,136.89 L347.23,137.81 L347.63,138.73 L348.02,139.65 L348.41,140.57 L348.80,141.49 L349.18,142.41 L349.57,143.34 L349.95,144.26 L350.34,145.18 L350.72,146.11 L351.10,147.03 L351.49,147.96 L351.87,148.88 L352.25,149.81 L352.63,150.73 L353.01,151.66 L353.39,152.58 L353.77,153.51 L354.15,154.43 L354.53,155.36 L354.92,156.29 L355.30,157.21 L355.68,158.13 L356.06,159.06 L356.45,159.98 L356.83,160.91 L357.22,161.83 L357.60,162.75 L357.99,163.68 L358.37,164.60 L358.76,165.52 L359.15,166.45 L359.53,167.37 L359.92,168.29 L360.31,169.22 L360.69,170.14 L361.08,171.06 L361.47,171.98 L361.86,172.91 L362.24,173.83 L362.63,174.75 L363.02,175.68 L363.40,176.60 L363.79,177.52 L364.18,178.44 L364.56,179.37 L364.95,180.29 L365.33,181.22 L365.72,182.14 L366.10,183.06 L366.48,183.99 L366.87,184.91 L367.25,185.84 L367.63,186.76 L368.01,187.69 L368.39,188.61 L368.77,189.54 L369.15,190.47 L369.52,191.39 L369.90,192.32 L370.27,193.25 L370.65,194.18 L371.02,195.10 L371.40,196.03 L371.77,196.96 L372.15,197.89 L372.52,198.82 L372.90,199.74 L373.28,200.67 L373.66,201.59 L374.05,202.51 L374.44,203.44 L374.84,204.36 L375.24,205.27 L375.64,206.19 L376.05,207.10 L376.47,208.01 L376.89,208.92 L377.32,209.82 L377.76,210.72 L378.20,211.62 L378.66,212.51 L379.12,213.40 L379.59,214.28 L380.07,215.16 L380.56,216.03 L381.06,216.90 L381.57,217.76 L382.09,218.61 L382.62,219.46 L383.16,220.30 L383.71,221.14 L384.28,221.96 L384.86,222.78 L385.45,223.59 L386.05,224.39 L386.67,225.17 L387.31,225.94 L387.96,226.70 L388.63,227.45 L389.32,228.17 L390.02,228.88 L390.75,229.57 L391.49,230.24 L392.25,230.89 L393.04,231.51 L393.85,232.10 L394.67,232.66 L395.52,233.19 L396.39,233.69 L397.28,234.15 L398.19,234.56 L399.12,234.94 L400.06,235.27 L401.02,235.55 L402.00,235.79 L402.98,235.98 L403.97,236.13 L404.96,236.24 L405.96,236.30 L406.96,236.33 L407.96,236.32 L408.96,236.27 L409.96,236.18 L410.95,236.06 L411.94,235.91 L412.92,235.72 L413.90,235.50 L414.87,235.25 L415.83,234.96 L416.77,234.64 L417.71,234.29 L418.63,233.90 L419.54,233.48 L420.43,233.03 L421.31,232.54 L422.16,232.02 L423.00,231.47 L423.81,230.88 L424.60,230.27 L425.37,229.63 L426.11,228.96 L426.83,228.27 L427.53,227.55 L428.21,226.81 L428.87,226.06 L429.50,225.29 L430.12,224.50 L430.71,223.69 L431.29,222.87 L431.85,222.04 L432.39,221.20 L432.92,220.35 L433.43,219.49 L433.93,218.63 L434.42,217.75 L434.89,216.87 L435.36,215.99 L435.81,215.09 L436.26,214.20 L436.70,213.30 L437.13,212.40 L437.55,211.49 L437.97,210.58 L438.39,209.67 L438.80,208.76 L439.21,207.85 L439.62,206.93 L440.02,206.02 L440.42,205.10 L440.82,204.18 L441.21,203.26 L441.60,202.34 L441.99,201.42 L442.38,200.49 L442.76,199.57 L443.14,198.64 L443.52,197.72 L443.89,196.79 L444.26,195.86 L444.63,194.93 L445.00,194.00 L445.37,193.07 L445.73,192.14 L446.09,191.20 L446.45,190.27 L446.81,189.34 L447.17,188.40 L447.53,187.47 L447.88,186.53 L448.23,185.59 L448.59,184.66 L448.94,183.72 L449.29,182.78 L449.64,181.85 L449.98,180.91 L450.33,179.97 L450.68,179.03 L451.03,178.09 L451.37,177.15 L451.72,176.21 L452.06,175.27 L452.41,174.34 L452.75,173.40 L453.09,172.46 L453.44,171.51 L453.78,170.57 L454.12,169.63 L454.46,168.69 L454.80,167.75 L455.14,166.81 L455.48,165.87 L455.81,164.93 L456.15,163.98 L456.49,163.04 L456.82,162.10 L457.16,161.16 L457.50,160.21 L457.83,159.27 L458.16,158.33 L458.50,157.38 L458.83,156.44 L459.16,155.50 L459.49,154.55 L459.82,153.61 L460.15,152.66 L460.48,151.72 L460.81,150.77 L461.14,149.83 L461.47,148.88 L461.81,147.94 L462.14,147.00 L462.48,146.05 L462.82,145.11 L463.16,144.17 L463.51,143.24 L463.86,142.30 L464.22,141.36 L464.58,140.43 L464.95,139.50 L465.33,138.57 L465.71,137.65 L466.10,136.73 L466.50,135.81 L466.90,134.90 L467.32,133.98 L467.74,133.08 L468.17,132.17 L468.61,131.27 L469.06,130.38 L469.52,129.49 L469.98,128.61 L470.46,127.73 L470.95,126.85 L471.45,125.98 L471.95,125.12 L472.47,124.26 L473.00,123.41 L473.54,122.57 L474.09,121.74 L474.68,120.93 L475.30,120.14 L475.96,119.39 L476.67,118.69 L477.45,118.07 L478.32,117.57 L479.27,117.26 L480.26,117.20 L481.24,117.42 L482.15,117.82 L483.01,118.33 L483.83,118.91 L484.61,119.53 L485.37,120.19 L486.10,120.87 L486.80,121.59 L487.46,122.33 L488.11,123.10 L488.72,123.89 L489.31,124.70 L489.87,125.53 L490.40,126.38 L490.91,127.24 L491.40,128.11 L491.87,128.99 L492.32,129.89 L492.75,130.79 L493.16,131.70 L493.56,132.62 L493.94,133.55 L494.31,134.48 L494.67,135.41 L495.02,136.35 L495.36,137.29 L495.68,138.24 L496.00,139.18 L496.32,140.13 L496.63,141.09 L496.93,142.04 L497.24,142.99 L497.54,143.95 L497.84,144.90 L498.13,145.86 L498.43,146.81 L498.73,147.77 L499.02,148.73 L499.32,149.68 L499.62,150.64 L499.92,151.59 L500.22,152.55 L500.52,153.50 L500.82,154.45 L501.13,155.41 L501.44,156.36 L501.75,157.31 L502.06,158.26 L502.38,159.21 L502.70,160.16 L503.03,161.10 L503.36,162.04 L503.70,162.99 L504.04,163.93 L504.39,164.86 L504.75,165.80 L505.11,166.73 L505.48,167.66 L505.86,168.59 L506.25,169.51 L506.64,170.43 L507.04,171.35 L507.45,172.26 L507.87,173.17 L508.30,174.07 L508.74,174.97 L509.19,175.87 L509.65,176.75 L510.12,177.64 L510.60,178.52 L511.09,179.39 L511.60,180.25 L512.11,181.11 L512.64,181.96 L513.18,182.80 L513.73,183.64 L514.29,184.47 L514.86,185.29 L515.45,186.10 L516.04,186.90 L516.65,187.70 L517.27,188.48 L517.90,189.26 L518.55,190.03 L519.20,190.78" stroke="#e0182c" stroke-width="3.6" stroke-dasharray="17 2.5 1.5 2.5"/>
</g>
<g stroke="#111" fill="none">
<line x1="41.0" y1="3.75" x2="41.0" y2="399.9" stroke-width="1.1"/>
<line x1="40.45" y1="4.4" x2="520" y2="4.4" stroke-width="1.3"/>
<line x1="519.5" y1="3.75" x2="519.5" y2="399.9" stroke-width="1.0"/>
<line x1="40.45" y1="399.35" x2="520" y2="399.35" stroke-width="1.15"/>
<line x1="99.27" y1="399" x2="99.27" y2="394.3" stroke-width="1.1"/>
<line x1="99.27" y1="4.6" x2="99.27" y2="9.2" stroke-width="1.1"/>
<line x1="157.64" y1="399" x2="157.64" y2="394.3" stroke-width="1.1"/>
<line x1="157.64" y1="4.6" x2="157.64" y2="9.2" stroke-width="1.1"/>
<line x1="216.01" y1="399" x2="216.01" y2="394.3" stroke-width="1.1"/>
<line x1="216.01" y1="4.6" x2="216.01" y2="9.2" stroke-width="1.1"/>
<line x1="274.38" y1="399" x2="274.38" y2="394.3" stroke-width="1.1"/>
<line x1="274.38" y1="4.6" x2="274.38" y2="9.2" stroke-width="1.1"/>
<line x1="332.75" y1="399" x2="332.75" y2="394.3" stroke-width="1.1"/>
<line x1="332.75" y1="4.6" x2="332.75" y2="9.2" stroke-width="1.1"/>
<line x1="391.12" y1="399" x2="391.12" y2="394.3" stroke-width="1.1"/>
<line x1="391.12" y1="4.6" x2="391.12" y2="9.2" stroke-width="1.1"/>
<line x1="449.49" y1="399" x2="449.49" y2="394.3" stroke-width="1.1"/>
<line x1="449.49" y1="4.6" x2="449.49" y2="9.2" stroke-width="1.1"/>
<line x1="507.86" y1="399" x2="507.86" y2="394.3" stroke-width="1.1"/>
<line x1="507.86" y1="4.6" x2="507.86" y2="9.2" stroke-width="1.1"/>
<line x1="41.2" y1="333.52" x2="45.7" y2="333.52" stroke-width="1.1"/>
<line x1="519.3" y1="333.52" x2="514.6" y2="333.52" stroke-width="1.1"/>
<line x1="41.2" y1="267.70" x2="45.7" y2="267.70" stroke-width="1.1"/>
<line x1="519.3" y1="267.70" x2="514.6" y2="267.70" stroke-width="1.1"/>
<line x1="41.2" y1="201.88" x2="45.7" y2="201.88" stroke-width="1.1"/>
<line x1="519.3" y1="201.88" x2="514.6" y2="201.88" stroke-width="1.1"/>
<line x1="41.2" y1="136.05" x2="45.7" y2="136.05" stroke-width="1.1"/>
<line x1="519.3" y1="136.05" x2="514.6" y2="136.05" stroke-width="1.1"/>
<line x1="41.2" y1="70.23" x2="45.7" y2="70.23" stroke-width="1.1"/>
<line x1="519.3" y1="70.23" x2="514.6" y2="70.23" stroke-width="1.1"/>
</g>
<g font-family='"Liberation Sans", Arial, sans-serif' font-size="14.6" font-weight="bold" fill="#111">
<text x="33.7" y="417.6" textLength="14.4" lengthAdjust="spacingAndGlyphs">10</text>
<text x="92.1" y="417.6" textLength="14.4" lengthAdjust="spacingAndGlyphs">20</text>
<text x="150.4" y="417.6" textLength="14.4" lengthAdjust="spacingAndGlyphs">30</text>
<text x="208.8" y="417.6" textLength="14.4" lengthAdjust="spacingAndGlyphs">40</text>
<text x="267.2" y="417.6" textLength="14.4" lengthAdjust="spacingAndGlyphs">50</text>
<text x="325.5" y="417.6" textLength="14.4" lengthAdjust="spacingAndGlyphs">60</text>
<text x="383.9" y="417.6" textLength="14.4" lengthAdjust="spacingAndGlyphs">70</text>
<text x="442.3" y="417.6" textLength="14.4" lengthAdjust="spacingAndGlyphs">80</text>
<text x="500.7" y="417.6" textLength="14.4" lengthAdjust="spacingAndGlyphs">90</text>
<text x="20.9" y="404.8" textLength="14.6" lengthAdjust="spacingAndGlyphs">14</text>
<text x="20.9" y="338.9" textLength="14.6" lengthAdjust="spacingAndGlyphs">16</text>
<text x="20.9" y="273.1" textLength="14.6" lengthAdjust="spacingAndGlyphs">18</text>
<text x="20.9" y="207.3" textLength="14.6" lengthAdjust="spacingAndGlyphs">20</text>
<text x="20.9" y="141.5" textLength="14.6" lengthAdjust="spacingAndGlyphs">22</text>
<text x="20.9" y="75.6" textLength="14.6" lengthAdjust="spacingAndGlyphs">24</text>
<text x="20.9" y="9.8" textLength="14.6" lengthAdjust="spacingAndGlyphs">26</text>
</g>
<text x="233.5" y="435.2" textLength="86.8" lengthAdjust="spacingAndGlyphs" font-family='"Liberation Sans", Arial, sans-serif' font-size="15" font-weight="bold" fill="#111">frequency kHz</text>
<text transform="translate(10.3,290.7) rotate(-90)" textLength="164" lengthAdjust="spacingAndGlyphs" font-family='"Liberation Sans", Arial, sans-serif' font-size="13.5" font-weight="bold" fill="#111">Relative Spectrum Level dB</text>
<rect x="338.05" y="11.7" width="174.25" height="58.4" fill="#fff" stroke="#222" stroke-width="1.5"/>
<line x1="346.4" y1="22.8" x2="391.2" y2="22.8" stroke="#111" stroke-width="3.4"/>
<line x1="346.4" y1="41.3" x2="391.2" y2="41.3" stroke="#24207f" stroke-width="3.6" stroke-dasharray="17.4 3.6"/>
<line x1="346.4" y1="58.8" x2="391.2" y2="58.8" stroke="#e0182c" stroke-width="3.6" stroke-dasharray="18.3 2.3 1.3 1 18.3 1.8 1.3 10"/>
<g font-family='"Liberation Sans", Arial, sans-serif' font-size="12.8" font-weight="bold" fill="#111">
<text x="396.2" y="27.8" textLength="106.5" lengthAdjust="spacingAndGlyphs">original spectrum</text>
<text x="396.2" y="45.9" textLength="81.9" lengthAdjust="spacingAndGlyphs">4 quefrencies</text>
<text x="395.6" y="62.7" textLength="89.3" lengthAdjust="spacingAndGlyphs">14 quefrencies</text>
</g>
<rect x="175.1" y="204.6" width="175.3" height="137.8" fill="#fff" stroke="#222" stroke-width="1.1"/>
<path d="M177.1,220.4 L177.6,260.0 L178.4,308.0 L179.2,320.0 L180.3,325.0 L181.5,323.5 L183.6,317.8 L185.2,319.5 L186.6,320.8 L188.5,319.3 L191.0,320.2 L194.0,319.4 L200.0,319.9 L210.0,319.5 L230.0,319.8 L260.0,319.6 L300.0,319.7 L348.8,319.6" fill="none" stroke="#111" stroke-width="3.4" stroke-linejoin="miter" stroke-miterlimit="3"/>
<g stroke="#222" stroke-width="0.8">
<line x1="175.1" y1="342.4" x2="175.1" y2="339.9"/>
<line x1="175.1" y1="204.6" x2="175.1" y2="207.1"/>
<line x1="210.2" y1="342.4" x2="210.2" y2="339.9"/>
<line x1="210.2" y1="204.6" x2="210.2" y2="207.1"/>
<line x1="245.2" y1="342.4" x2="245.2" y2="339.9"/>
<line x1="245.2" y1="204.6" x2="245.2" y2="207.1"/>
<line x1="280.3" y1="342.4" x2="280.3" y2="339.9"/>
<line x1="280.3" y1="204.6" x2="280.3" y2="207.1"/>
<line x1="315.3" y1="342.4" x2="315.3" y2="339.9"/>
<line x1="315.3" y1="204.6" x2="315.3" y2="207.1"/>
<line x1="350.4" y1="342.4" x2="350.4" y2="339.9"/>
<line x1="350.4" y1="204.6" x2="350.4" y2="207.1"/>
<line x1="175.1" y1="342.4" x2="177.6" y2="342.4"/>
<line x1="350.4" y1="342.4" x2="347.9" y2="342.4"/>
<line x1="175.1" y1="319.4" x2="177.6" y2="319.4"/>
<line x1="350.4" y1="319.4" x2="347.9" y2="319.4"/>
<line x1="175.1" y1="296.5" x2="177.6" y2="296.5"/>
<line x1="350.4" y1="296.5" x2="347.9" y2="296.5"/>
<line x1="175.1" y1="273.5" x2="177.6" y2="273.5"/>
<line x1="350.4" y1="273.5" x2="347.9" y2="273.5"/>
<line x1="175.1" y1="250.5" x2="177.6" y2="250.5"/>
<line x1="350.4" y1="250.5" x2="347.9" y2="250.5"/>
<line x1="175.1" y1="227.6" x2="177.6" y2="227.6"/>
<line x1="350.4" y1="227.6" x2="347.9" y2="227.6"/>
<line x1="175.1" y1="204.6" x2="177.6" y2="204.6"/>
<line x1="350.4" y1="204.6" x2="347.9" y2="204.6"/>
</g>
<g font-family='"Liberation Sans", Arial, sans-serif' font-size="5.4" font-weight="bold" fill="#111">
<text x="175.1" y="349.7" text-anchor="middle">0</text>
<text x="210.2" y="349.7" text-anchor="middle">20</text>
<text x="245.2" y="349.7" text-anchor="middle">40</text>
<text x="280.3" y="349.7" text-anchor="middle">60</text>
<text x="315.3" y="349.7" text-anchor="middle">80</text>
<text x="350.4" y="349.7" text-anchor="middle">100</text>
<text x="172.9" y="345.1" text-anchor="end">-50</text>
<text x="172.9" y="322.1" text-anchor="end">0</text>
<text x="172.9" y="299.2" text-anchor="end">50</text>
<text x="172.9" y="276.2" text-anchor="end">100</text>
<text x="172.9" y="253.2" text-anchor="end">150</text>
<text x="172.9" y="230.3" text-anchor="end">200</text>
<text x="172.9" y="207.3" text-anchor="end">250</text>
</g>
<text x="234.2" y="360.4" textLength="62.7" lengthAdjust="spacingAndGlyphs" font-family='"Liberation Sans", Arial, sans-serif' font-size="15" font-weight="bold" fill="#111">Quefrency</text>
<text transform="translate(159.4,303.5) rotate(-90)" textLength="67.8" lengthAdjust="spacingAndGlyphs" font-family='"Liberation Sans", Arial, sans-serif' font-size="14.5" font-weight="bold" fill="#111">Magnitude</text>
</svg></body></html>
